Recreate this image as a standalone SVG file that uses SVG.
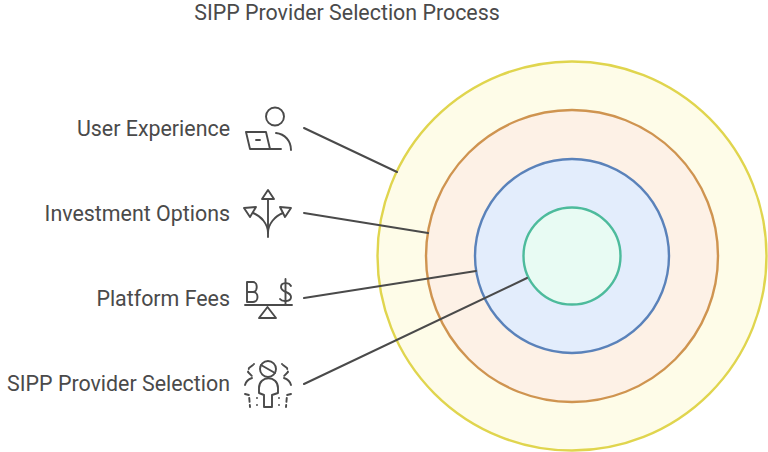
<svg xmlns="http://www.w3.org/2000/svg" width="768" height="452" viewBox="0 0 768 452">
<style>
text{font-family:Roboto,"Liberation Sans",sans-serif;fill:#4a4a4a;font-size:21.4px}
.lab{text-anchor:end}
.ring{stroke-width:2.4}
.ic{fill:none;stroke:#4a4a4a;stroke-width:1.9;stroke-linecap:round;stroke-linejoin:round}
.co{stroke:#4a4a4a;stroke-width:2;fill:none;stroke-linecap:round}
</style>
<rect width="768" height="452" fill="#ffffff"/>
<text id="title" x="347" y="20" text-anchor="middle">SIPP Provider Selection Process</text>
<g id="ring-outer"><circle class="ring" cx="572" cy="256" r="194.5" fill="#fefce8" stroke="#e0d54e"/></g>
<g id="ring-orange"><circle class="ring" cx="572" cy="256" r="146" fill="#fdf1e6" stroke="#cf9450"/></g>
<g id="ring-blue"><circle class="ring" cx="572" cy="256" r="97" fill="#e3edfc" stroke="#5a82ba"/></g>
<g id="ring-green"><circle class="ring" cx="572" cy="256" r="48.5" fill="#e8fbf3" stroke="#4dbb9c"/></g>
<g id="connectors">
<path class="co" d="M304 128L397 172"/>
<path class="co" d="M304 213L428 233"/>
<path class="co" d="M304 298L476 271"/>
<path class="co" d="M304 384L527 278"/>
</g>
<g id="user-experience">
<text class="lab" x="230" y="136">User Experience</text>
<g class="ic">
<circle cx="275" cy="116.500" r="9"/>
<path d="M246 132L266 132L270 149L250 149Z"/>
<path d="M270 149L281 149"/>
<path d="M256 140L260 140"/>
<path d="M276 133C285 134 291 141 291 150"/>
</g>
</g>
<g id="investment-options">
<text class="lab" x="230" y="221">Investment Options</text>
<g class="ic">
<path d="M268 199L268 237"/>
<path d="M268 190L262 199L274 199Z"/>
<path d="M244 208L256 207L250 217Z"/>
<path d="M291 208L280 207L285 217Z"/>
<path d="M253 213C261 216 268 224 268 233C268 224 275 216 283 213"/>
</g>
</g>
<g id="platform-fees">
<text class="lab" x="230" y="306">Platform Fees</text>
<g class="ic">
<path d="M247 282L247 302L253 302C259 302 259 292 253 292L247 292M253 292C258 292 258 282 253 282L247 282"/>
<path d="M291 286C289 282 281 282 281 287C281 293 291 291 291 297C291 302 282 302 280 299"/>
<path d="M285.500 279L285.500 304"/>
<path d="M245 305L292 305"/>
<path d="M267.500 307L259 318L276 318Z"/>
</g>
</g>
<g id="sipp-provider-selection">
<text class="lab" x="230" y="391">SIPP Provider Selection</text>
<g class="ic">
<circle cx="268" cy="369" r="8"/>
<path d="M261 365L275 373"/>
<path d="M259 393L259 388C259 375 278 375 278 388L278 393L272 395L272 407L264 407L264 395Z"/>
<path d="M253 365L249 368L248 372L253 377" stroke-dasharray="6 2.500"/>
<path d="M283 365L287 368L288 372L283 377" stroke-dasharray="6 2.500"/>
<path d="M245 385C246 381 249 379 252 378"/>
<path d="M291 385C290 381 287 379 284 378"/>
<path d="M245 394L249 395L250 407" stroke-dasharray="4 3"/>
<path d="M291 394L287 395L286 407" stroke-dasharray="4 3"/>
<path d="M254 364L254 364M282 364L282 364M257 398L257 398M257 405L257 405M279 398L279 398M279 405L279 405"/>
</g>
</g>
</svg>
